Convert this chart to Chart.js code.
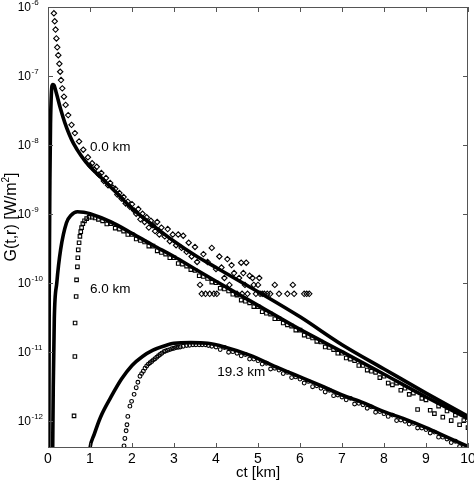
<!DOCTYPE html>
<html>
<head>
<meta charset="utf-8">
<script src="https://cdn.jsdelivr.net/npm/chart.js@4"></script>
<style>
  html, body { margin: 0; padding: 0; background: #fff; }
  canvas { display: block; }
</style>
</head>
<body>
<canvas id="greenChart" width="474" height="481"></canvas>
<script>
// axis ticks
const xTicks = [0, 1, 2, 3, 4, 5, 6, 7, 8, 9, 10];
const yTicks = [1e-12, 1e-11, 1e-10, 1e-9, 1e-8, 1e-7, 1e-6];
const yTickExp = ['-12', '-11', '-10', '-9', '-8', '-7', '-6'];

// model curves (solid lines)
const line0X = [0.02, 0.03, 0.045, 0.06, 0.08, 0.11, 0.14, 0.2, 0.3, 0.4, 0.5, 0.6, 0.8, 1.0, 1.3, 1.6, 2.0, 2.5, 3.0, 3.5, 4.0, 5.0, 6.0, 7.0, 8.0, 9.0, 10];
const line0Y = [3e-13, 1e-10, 3e-9, 2e-8, 5.5e-8, 7.5e-8, 7.4e-8, 5.6e-8, 3.3e-8, 2.1e-8, 1.45e-8, 1.07e-8, 6.8e-9, 4.8e-9, 3.2e-9, 2.1e-9, 1.2e-9, 6.8e-10, 4.0e-10, 2.5e-10, 1.66e-10, 7.4e-11, 3.2e-11, 1.26e-11, 5.6e-12, 2.5e-12, 1.15e-12];

const line6X = [0.11, 0.125, 0.15, 0.21, 0.3, 0.44, 0.55, 0.7, 0.85, 1.0, 1.5, 2.0, 2.5, 3.0, 3.5, 4.0, 5.0, 6.0, 7.0, 8.0, 9.0, 10];
const line6Y = [3e-13, 3e-12, 3e-11, 1e-10, 3e-10, 7.4e-10, 9.5e-10, 1.07e-9, 1.05e-9, 1.0e-9, 7.6e-10, 5.2e-10, 3.5e-10, 2.4e-10, 1.58e-10, 1.05e-10, 4.7e-11, 2.1e-11, 1.0e-11, 4.7e-12, 2.2e-12, 1.07e-12];

const line19X = [0.98, 1.0, 1.1, 1.25, 1.5, 1.75, 2.0, 2.25, 2.5, 2.75, 3.0, 3.4, 3.8, 4.2, 4.8, 5.5, 6.0, 6.5, 7.0, 7.5, 8.0, 8.5, 9.0, 9.5, 10];
const line19Y = [3e-13, 4e-13, 6.3e-13, 1.12e-12, 2.2e-12, 4.0e-12, 6.3e-12, 8.5e-12, 1.05e-11, 1.2e-11, 1.32e-11, 1.35e-11, 1.32e-11, 1.17e-11, 8.9e-12, 5.75e-12, 4.3e-12, 3.2e-12, 2.35e-12, 1.82e-12, 1.35e-12, 1.05e-12, 7.9e-13, 5.75e-13, 4.2e-13];

// simulation points (markers), 0.0 km: diamonds
const diaX = [0.14, 0.16, 0.18, 0.2, 0.22, 0.245, 0.27, 0.29, 0.31, 0.34, 0.38, 0.42, 0.48, 0.56, 0.64, 0.74, 0.84, 0.95, 1.05, 1.16, 1.27, 1.38, 1.48, 1.6, 1.7, 1.8,
  1.0, 1.1, 1.21, 1.33, 1.43, 1.54, 1.65, 1.75, 1.85,
  1.9, 1.95, 2.0, 2.05, 2.1, 2.15, 2.2, 2.25, 2.3, 2.35, 2.4, 2.45, 2.5, 2.55, 2.6, 2.65, 2.7, 2.78, 2.85, 2.9, 2.97, 3.05, 3.1, 3.18,
  3.22, 3.3, 3.35, 3.42, 3.5, 3.55, 3.62, 3.66, 3.7, 3.75, 3.8, 3.85, 3.9, 3.95, 4.0, 4.02, 4.08, 4.13, 4.2, 4.27, 4.32, 4.37, 4.43,
  4.5, 4.55, 4.6, 4.62, 4.65, 4.69, 4.72, 4.75, 4.8, 4.87, 4.9, 4.95, 5.0, 5.03, 5.05, 5.1, 5.15, 5.22, 5.29, 5.4, 5.5, 5.7, 5.83, 5.86, 6.1, 6.16, 6.22];
const diaY = [8.1e-7, 6.2e-7, 4.7e-7, 3.5e-7, 2.6e-7, 2.0e-7, 1.5e-7, 1.15e-7, 8.7e-8, 6.6e-8, 5.0e-8, 3.8e-8, 2.7e-8, 1.95e-8, 1.48e-8, 1.12e-8, 8.5e-9, 6.6e-9, 5.4e-9, 4.8e-9, 3.9e-9, 3.3e-9, 2.8e-9, 2.3e-9, 2.0e-9, 1.75e-9,
  5.0e-9, 4.4e-9, 3.7e-9, 3.0e-9, 2.6e-9, 2.4e-9, 1.9e-9, 1.66e-9, 1.41e-9,
  1.5e-9, 1.26e-9, 1.38e-9, 1.12e-9, 1.0e-9, 1.17e-9, 8.3e-10, 1.0e-9, 7.6e-10, 8.9e-10, 6.3e-10, 7.9e-10, 6.8e-10, 5.6e-10, 7.6e-10, 5.0e-10, 6.3e-10, 4.7e-10, 6.0e-10, 4.0e-10, 5.0e-10, 3.5e-10, 5.0e-10, 3.2e-10,
  4.8e-10, 2.8e-10, 3.8e-10, 2.4e-10, 3.3e-10, 2.0e-10, 9.3e-11, 6.9e-11, 2.6e-10, 6.9e-11, 2.0e-10, 6.9e-11, 3.2e-10, 6.9e-11, 1.58e-10, 6.9e-11, 2.4e-10, 1.66e-10, 1.17e-10, 2.2e-10, 9.3e-11, 1.8e-10, 1.38e-10,
  6.9e-11, 1.17e-10, 1.95e-10, 6.9e-11, 1.38e-10, 9.3e-11, 1.95e-10, 6.9e-11, 1.26e-10, 1.17e-10, 9.3e-11, 6.9e-11, 9.3e-11, 1.17e-10, 6.9e-11, 6.9e-11, 6.9e-11, 6.9e-11, 6.9e-11, 9.3e-11, 6.9e-11, 6.9e-11, 9.3e-11, 6.9e-11, 6.9e-11, 6.9e-11, 6.9e-11];

// 6.0 km: squares
const sqX = [0.62, 0.64, 0.645, 0.67, 0.68, 0.70, 0.71, 0.72, 0.74, 0.76, 0.78, 0.8, 0.83, 0.87, 0.92, 0.98, 1.05, 1.12, 1.2,
  1.3, 1.4, 1.5, 1.6, 1.7, 1.8, 1.9, 2.0, 2.1, 2.2, 2.3, 2.4, 2.5, 2.6, 2.7, 2.8, 2.9, 3.0, 3.1, 3.2, 3.3, 3.4, 3.5, 3.6, 3.7, 3.8, 3.9,
  4.0, 4.1, 4.2, 4.3, 4.4, 4.5, 4.6, 4.7, 4.8, 4.9, 5.0, 5.1, 5.2, 5.3, 5.4, 5.5, 5.6, 5.7, 5.8, 5.9, 6.0, 6.1, 6.2, 6.3, 6.4, 6.5, 6.6, 6.7, 6.8, 6.9,
  7.0, 7.1, 7.2, 7.3, 7.4, 7.5, 7.6, 7.7, 7.8, 7.9, 8.0, 8.1, 8.2, 8.3, 8.4, 8.5, 8.6, 8.7, 8.8, 8.9, 9.0, 9.1, 9.2, 9.3, 9.4, 9.5, 9.6, 9.7, 9.8, 9.9, 10.0];
const sqY = [1.17e-12, 8.5e-12, 2.6e-11, 6.3e-11, 1.1e-10, 1.7e-10, 2.3e-10, 3.0e-10, 3.8e-10, 4.7e-10, 5.5e-10, 6.3e-10, 7.2e-10, 7.9e-10, 8.5e-10, 8.9e-10, 8.9e-10, 8.7e-10, 8.3e-10,
  7.9e-10, 7.1e-10, 7.2e-10, 6.2e-10, 6.0e-10, 5.6e-10, 5.0e-10, 5.0e-10, 4.3e-10, 4.1e-10, 3.9e-10, 3.4e-10, 3.4e-10, 2.9e-10, 2.75e-10, 2.6e-10, 2.3e-10, 2.3e-10, 1.9e-10, 1.86e-10, 1.74e-10, 1.55e-10, 1.51e-10, 1.26e-10, 1.23e-10, 1.15e-10, 1.02e-10,
  1.0e-10, 8.3e-11, 8.1e-11, 7.6e-11, 6.8e-11, 6.6e-11, 5.6e-11, 5.4e-11, 5.1e-11, 4.5e-11, 4.5e-11, 3.8e-11, 3.6e-11, 3.5e-11, 3.0e-11, 3.0e-11, 2.6e-11, 2.45e-11, 2.35e-11, 2.05e-11, 2.05e-11, 1.74e-11, 1.66e-11, 1.58e-11, 1.41e-11, 1.38e-11, 1.17e-11, 1.15e-11, 1.07e-11, 9.5e-12,
  9.5e-12, 8.1e-12, 7.8e-12, 7.4e-12, 6.3e-12, 6.3e-12, 5.4e-12, 5.2e-12, 5.0e-12, 4.2e-12, 4.4e-12, 3.5e-12, 3.3e-12, 3.5e-12, 2.75e-12, 2.95e-12, 2.4e-12, 2.5e-12, 1.45e-12, 2.1e-12, 2.0e-12, 1.41e-12, 1.26e-12, 1.62e-12, 1.12e-12, 1.38e-12, 1.0e-12, 1.2e-12, 8.7e-13, 1.0e-12, 7.9e-13];

// 19.3 km: circles
const circX = [1.81, 1.83, 1.86, 1.88, 1.9, 1.95, 1.99, 2.05, 2.1, 2.14, 2.19, 2.23, 2.27, 2.31, 2.35, 2.39, 2.43, 2.47, 2.51, 2.55, 2.59, 2.63, 2.67, 2.71, 2.76, 2.8, 2.85, 2.9, 2.95, 3.0,
  3.05, 3.1, 3.15, 3.22, 3.3, 3.37, 3.45, 3.52, 3.6, 3.67, 3.75, 3.82, 3.9,
  4.0, 4.1, 4.2, 4.3, 4.4, 4.5, 4.6, 4.7, 4.8, 4.9, 5.0, 5.1, 5.2, 5.3, 5.4, 5.5, 5.6, 5.7, 5.8, 5.9, 6.0, 6.1, 6.2, 6.3, 6.4, 6.5, 6.6, 6.7, 6.8, 6.9,
  7.0, 7.1, 7.2, 7.3, 7.4, 7.5, 7.6, 7.7, 7.8, 7.9, 8.0, 8.1, 8.2, 8.3, 8.4, 8.5, 8.6, 8.7, 8.8, 8.9, 9.0, 9.1, 9.2, 9.3, 9.4, 9.5, 9.6, 9.7, 9.8, 9.9, 10.0];
const circY = [4.3e-13, 5.5e-13, 7.1e-13, 8.7e-13, 1.15e-12, 1.62e-12, 1.9e-12, 2.4e-12, 3.0e-12, 3.6e-12, 4.4e-12, 4.8e-12, 5.2e-12, 5.75e-12, 6.2e-12, 6.6e-12, 6.9e-12, 7.2e-12, 7.6e-12, 7.9e-12, 8.3e-12, 8.7e-12, 9.1e-12, 9.5e-12, 1.0e-11, 1.02e-11, 1.05e-11, 1.07e-11, 1.1e-11, 1.12e-11,
  1.15e-11, 1.16e-11, 1.17e-11, 1.2e-11, 1.23e-11, 1.24e-11, 1.26e-11, 1.26e-11, 1.26e-11, 1.26e-11, 1.26e-11, 1.23e-11, 1.2e-11,
  1.17e-11, 1.07e-11, 1.15e-11, 9.8e-12, 1.0e-11, 9.5e-12, 8.7e-12, 9.1e-12, 7.8e-12, 7.8e-12, 7.4e-12, 6.6e-12, 6.8e-12, 5.6e-12, 5.75e-12, 5.4e-12, 4.8e-12, 5.0e-12, 4.2e-12, 4.3e-12, 4.0e-12, 3.5e-12, 3.7e-12, 3.1e-12, 3.2e-12, 2.95e-12, 2.6e-12, 2.75e-12, 2.3e-12, 2.35e-12,
  2.2e-12, 2.0e-12, 2.1e-12, 1.74e-12, 1.78e-12, 1.7e-12, 1.51e-12, 1.58e-12, 1.32e-12, 1.35e-12, 1.26e-12, 1.15e-12, 1.2e-12, 1.0e-12, 1.02e-12, 9.8e-13, 8.9e-13, 9.1e-13, 7.8e-13, 7.8e-13, 7.4e-13, 6.6e-13, 6.8e-13, 5.75e-13, 5.75e-13, 5.4e-13, 4.8e-13, 5.0e-13, 4.2e-13, 4.2e-13, 3.9e-13];

// curve names, placed in data coordinates
const curveNames = ['0.0 km', '6.0 km', '19.3 km'];
const namePos = [{ x: 1.48, y: 9.3e-9 }, { x: 1.48, y: 7.9e-11 }, { x: 4.6, y: 5.0e-12 }];

const FONT = '"Liberation Sans", Arial, Helvetica, sans-serif';
const pts = (xs, ys) => xs.map((x, i) => ({ x, y: ys[i] }));

function solid(xs, ys) {
  return {
    data: pts(xs, ys), showLine: true, borderColor: '#000', borderWidth: 3.6,
    pointRadius: 0, cubicInterpolationMode: 'monotone', clip: 0, order: 0
  };
}
function markers(xs, ys, style, r) {
  return {
    data: pts(xs, ys), showLine: false, pointStyle: style, pointRadius: r,
    borderColor: '#000', pointBorderWidth: 1.1, backgroundColor: 'rgba(0,0,0,0)',
    clip: 0, order: 1
  };
}

// box, inward ticks and all axis text (MATLAB-like)
const axesBox = {
  id: 'axesBox',
  afterDatasetsDraw(chart) {
    const { ctx, chartArea: a, scales: { x, y } } = chart;
    ctx.save();
    ctx.strokeStyle = '#555';
    ctx.lineWidth = 1;
    ctx.strokeRect(a.left + 0.5, a.top + 0.5, a.right - a.left - 1, a.bottom - a.top - 1);
    ctx.beginPath();
    xTicks.forEach(v => {
      const px = Math.round(x.getPixelForValue(v)) + 0.5;
      ctx.moveTo(px, a.bottom); ctx.lineTo(px, a.bottom - 5);
      ctx.moveTo(px, a.top); ctx.lineTo(px, a.top + 5);
    });
    yTicks.forEach(v => {
      const py = Math.round(y.getPixelForValue(v)) + 0.5;
      ctx.moveTo(a.left, py); ctx.lineTo(a.left + 5, py);
      ctx.moveTo(a.right, py); ctx.lineTo(a.right - 5, py);
    });
    ctx.stroke();

    ctx.fillStyle = '#000';
    // x tick labels
    ctx.font = '14px ' + FONT;
    ctx.textAlign = 'center';
    ctx.textBaseline = 'alphabetic';
    xTicks.forEach(v => ctx.fillText(String(v), x.getPixelForValue(v), 463));

    // y tick labels 10^n
    yTicks.forEach((v, i) => {
      const py = y.getPixelForValue(v);
      ctx.font = '12px ' + FONT;
      ctx.textAlign = 'right';
      ctx.textBaseline = 'middle';
      ctx.fillText('10', 31, py + 1);
      ctx.font = '8px ' + FONT;
      ctx.textAlign = 'left';
      ctx.fillText(yTickExp[i], 31.5, py - 4);
    });

    // x title
    ctx.font = '15px ' + FONT;
    ctx.textAlign = 'center';
    ctx.textBaseline = 'alphabetic';
    ctx.fillText('ct [km]', (a.left + a.right) / 2, 477);

    // y title, rotated, with superscript
    ctx.save();
    ctx.translate(16, 217);
    ctx.rotate(-Math.PI / 2);
    const big = '16px ' + FONT, small = '10px ' + FONT;
    ctx.font = big;
    const w1 = ctx.measureText('G(t,r) [W/m').width;
    const w3 = ctx.measureText(']').width;
    ctx.font = small;
    const w2 = ctx.measureText('2').width;
    let cx = -(w1 + w2 + w3) / 2;
    ctx.textAlign = 'left';
    ctx.font = big;
    ctx.fillText('G(t,r) [W/m', cx, 0); cx += w1;
    ctx.font = small;
    ctx.fillText('2', cx, -7); cx += w2;
    ctx.font = big;
    ctx.fillText(']', cx, 0);
    ctx.restore();

    // curve names
    ctx.font = '13.5px ' + FONT;
    ctx.textAlign = 'center';
    ctx.textBaseline = 'middle';
    curveNames.forEach((t, i) => {
      ctx.fillText(t, x.getPixelForValue(namePos[i].x), y.getPixelForValue(namePos[i].y));
    });
    ctx.restore();
  }
};

new Chart(document.getElementById('greenChart'), {
  type: 'scatter',
  data: {
    datasets: [
      solid(line0X, line0Y),
      solid(line6X, line6Y),
      solid(line19X, line19Y),
      markers(diaX, diaY, 'rectRot', 2.7),
      markers(sqX, sqY, 'rect', 2.5),
      markers(circX, circY, 'circle', 1.9)
    ]
  },
  options: {
    responsive: false,
    animation: false,
    devicePixelRatio: 1,
    layout: { padding: { left: 48, right: 6, top: 7, bottom: 33 }, autoPadding: false },
    plugins: { legend: { display: false }, tooltip: { enabled: false } },
    scales: {
      x: { type: 'linear', min: 0, max: 10, display: false },
      y: { type: 'logarithmic', min: 4e-13, max: 1e-6, display: false }
    }
  },
  plugins: [axesBox]
});
</script>
</body>
</html>
